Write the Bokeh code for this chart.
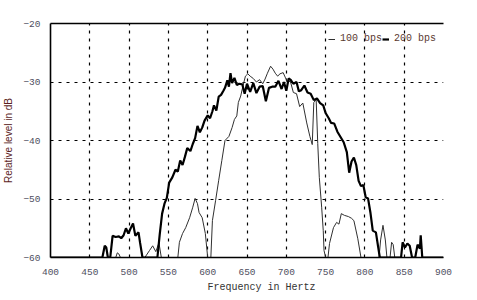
from bokeh.plotting import figure
from bokeh.models import LinearAxis, Title, Legend, LegendItem, FixedTicker, Range1d
from bokeh.embed import file_html
from bokeh.resources import INLINE

# 100 bps (thin)
freq_100 = [400, 483, 485, 487, 489, 520, 526, 530, 534, 538, 541, 562, 564, 568, 572, 577, 581, 584, 587,
            589, 593, 597, 600, 604, 606, 610, 614, 618, 622, 627, 631, 634, 637, 639, 642, 645, 648, 651,
            654, 658, 662, 666, 670, 673, 676, 680, 683, 686, 689, 692, 696, 699, 702, 705, 709, 713, 717,
            721, 726, 730, 733, 735, 738, 740, 742, 745, 747, 748, 750, 753, 755, 760, 764, 767, 770, 774,
            779, 783, 786, 791, 795, 818, 820, 823, 826, 828, 832, 834, 836, 838, 900]
db_100 = [-60, -60, -59.2, -59.4, -60, -60, -58.8, -58.0, -59.0, -57.5, -60, -60, -57.4, -55.9, -54.9, -53.2,
          -51.4, -49.9, -50.8, -52.3, -53.2, -55.9, -60, -60, -53.7, -50.3, -46.8, -43.4, -40.0, -39.3, -37.8,
          -36.4, -35.8, -33.5, -32.4, -30.6, -29.0, -28.6, -29.0, -29.4, -30.0, -29.6, -30.3, -29.5, -28.5,
          -27.3, -27.8, -28.5, -29.0, -28.6, -28.4, -29.3, -30.2, -29.8, -31.8, -32.0, -34.2, -33.6, -37.0,
          -39.3, -40.7, -33.5, -33.0, -40.5, -46.3, -51.4, -55.4, -58.8, -60, -60, -57.6, -54.9, -54.0, -54.3,
          -52.5, -52.8, -53.0, -53.3, -53.7, -56.8, -60, -60, -57.0, -54.5, -57.0, -60, -60, -57.4, -57.8,
          -60, -60]

# 200 bps (thick)
freq_200 = [400, 466, 469, 471, 473, 476, 479, 483, 487, 490, 493, 496, 499, 502, 505, 508, 512, 514, 517,
            536, 539, 542, 545, 548, 551, 555, 559, 562, 565, 568, 571, 574, 578, 581, 584, 587, 590, 593,
            596, 600, 603, 606, 608, 611, 614, 617, 620, 622, 625, 627, 629, 631, 634, 637, 640, 644, 647,
            650, 654, 658, 662, 666, 670, 674, 678, 682, 686, 690, 694, 697, 700, 703, 706, 709, 713, 716,
            719, 723, 727, 731, 735, 739, 743, 747, 750, 754, 757, 761, 765, 769, 773, 777, 780, 783, 786,
            789, 792, 795, 798, 801, 804, 807, 810, 814, 817, 819, 846, 848, 851, 854, 857, 860, 864, 867,
            870, 871, 873, 900]
db_200 = [-60, -60, -58.0, -58.3, -60, -60, -56.3, -56.5, -56.4, -56.7, -56.2, -55.0, -55.9, -55.0, -54.2,
          -56.3, -55.7, -57.5, -60, -60, -56.0, -52.5, -50.8, -49.8, -47.2, -46.3, -45.0, -45.3, -43.4, -44.2,
          -42.8, -41.3, -41.8, -40.6, -39.6, -37.5, -38.6, -37.8, -36.6, -35.7, -36.2, -35.0, -34.0, -34.9,
          -32.5, -32.2, -31.5, -31.0, -29.7, -30.8, -28.5, -30.2, -29.3, -30.5, -30.3, -30.4, -32.0, -30.3,
          -31.7, -30.2, -31.9, -30.8, -30.7, -33.3, -31.0, -30.8, -30.8, -29.8, -31.2, -30.0, -31.5, -29.4,
          -29.7, -30.3, -30.0, -31.6, -31.4, -30.6, -31.8, -32.0, -33.1, -32.8, -33.6, -34.0, -35.3, -36.2,
          -37.0, -37.1, -38.5, -39.4, -40.3, -42.0, -45.5, -43.6, -42.9, -44.2, -46.9, -47.8, -47.6, -49.7,
          -49.9, -52.3, -55.4, -55.7, -58.3, -60, -60, -57.4, -58.3, -57.6, -58.0, -60, -60, -57.8, -58.5,
          -56.2, -60, -60]

x_ticks = [400, 450, 500, 550, 600, 650, 700, 750, 800, 850, 900]
y_ticks = [-60, -50, -40, -30, -20]
series_names = ["100 bps", "200 bps"]
x_title = "Frequency in Hertz"
y_title = "Relative level in dB"

mono = "Liberation Mono"
tick_color = "#4e4e5e"

p = figure(width=477, height=300, output_backend="svg", toolbar_location=None,
           x_range=Range1d(400, 900), y_range=Range1d(-60, -20),
           min_border_left=47, min_border_right=34, min_border_top=23, min_border_bottom=43)
p.outline_line_color = None
p.background_fill_color = "white"

r1 = p.line(freq_100, db_100, line_color="#303030", line_width=1)
r2 = p.line(freq_200, db_200, line_color="black", line_width=2.2)

for ax in (p.xaxis[0], p.yaxis[0]):
    ax.axis_line_color = "black"
    ax.axis_line_width = 1.6
    ax.major_tick_line_color = None
    ax.minor_tick_line_color = None
    ax.major_label_text_font = mono
    ax.major_label_text_font_size = "9.5px"
    ax.major_label_text_color = tick_color

p.xaxis[0].ticker = FixedTicker(ticks=x_ticks)
p.yaxis[0].ticker = FixedTicker(ticks=y_ticks)
p.xaxis[0].major_label_standoff = 5
p.yaxis[0].major_label_standoff = 4
p.yaxis[0].axis_label = y_title
p.yaxis[0].axis_label_text_font = "Liberation Sans"
p.yaxis[0].axis_label_text_font_style = "normal"
p.yaxis[0].axis_label_text_font_size = "10px"
p.yaxis[0].axis_label_text_color = "#5c1e1e"
p.yaxis[0].axis_label_standoff = 6

top = LinearAxis(ticker=FixedTicker(ticks=[]), axis_line_color="black", axis_line_width=1.6,
                 major_tick_line_color=None, minor_tick_line_color=None,
                 major_label_text_font_size="0px", major_label_standoff=0)
p.add_layout(top, "above")

for g in (p.xgrid[0], p.ygrid[0]):
    g.grid_line_color = "black"
    g.grid_line_width = 1.2
    g.grid_line_dash = "3 5"
p.xgrid[0].ticker = FixedTicker(ticks=x_ticks)
p.ygrid[0].ticker = FixedTicker(ticks=y_ticks)

xt = Title(text=x_title, align="left", offset=157, text_font=mono, text_font_size="10px",
           text_font_style="normal", text_color="#333333", standoff=4)
p.add_layout(xt, "below")

legend = Legend(items=[LegendItem(label=series_names[0], renderers=[r1]),
                       LegendItem(label=series_names[1], renderers=[r2])],
                orientation="horizontal", location=(278, 213),
                glyph_width=7, glyph_height=10, label_standoff=5, spacing=0,
                padding=0, margin=0, border_line_color=None, background_fill_alpha=0,
                label_text_font=mono, label_text_font_size="10px", label_text_color="#5a3a30",
                label_height=10, label_width=40)
p.add_layout(legend)

open("out.html", "w").write(file_html(p, INLINE))
